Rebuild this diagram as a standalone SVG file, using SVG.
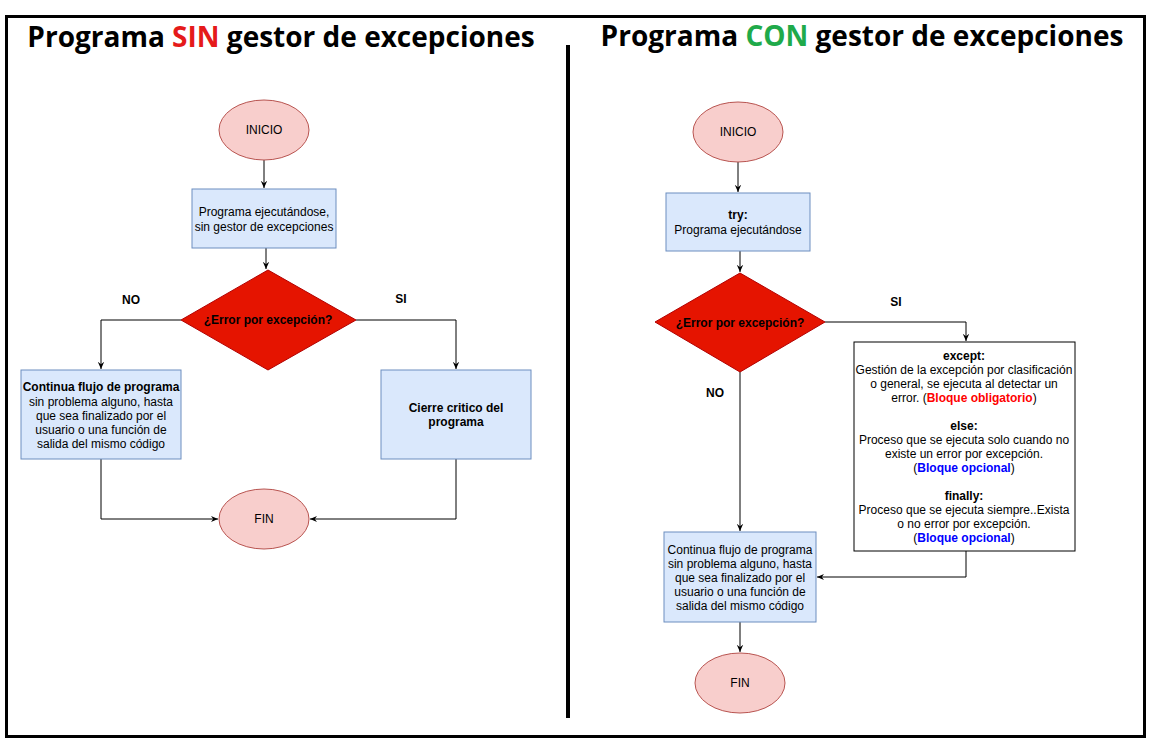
<svg xmlns="http://www.w3.org/2000/svg" width="1154" height="748" viewBox="0 0 1154 748">
<style>
.t{font-family:"Liberation Sans",Arial,sans-serif;font-size:12px;fill:#000;text-anchor:middle}
.b{font-weight:bold}
.h{font-family:"Open Sans","Noto Sans",sans-serif;font-weight:bold;font-size:28px;text-anchor:middle}
.el{fill:#f8cecc;stroke:#b85450}
.bx{fill:#dae8fc;stroke:#6c8ebf}
.dm{fill:#e51400;stroke:#b20000}
.c{fill:none;stroke:#000;stroke-width:1;marker-end:url(#a)}
</style>
<defs><marker id="a" viewBox="0 0 10 10" refX="9" refY="5" markerWidth="8" markerHeight="8" orient="auto"><path d="M0,1 L9,5 L0,9 L3,5 Z" fill="#000"/></marker></defs>
<rect x="0" y="0" width="1154" height="748" fill="#fff"/>
<rect x="6.5" y="16.5" width="1138" height="720" fill="none" stroke="#000" stroke-width="3"/>
<line x1="568" y1="45" x2="568" y2="718" stroke="#000" stroke-width="4"/>
<text class="h" x="281" y="47">Programa <tspan fill="#e51a1a">SIN</tspan> gestor de excepciones</text>
<text class="h" x="862" y="46">Programa <tspan fill="#1faa4a">CON</tspan> gestor de excepciones</text>
<g id="connectors">
<path class="c" d="M264,160 V188"/>
<path class="c" d="M266,248 V269"/>
<path class="c" d="M181,320 H101 V369"/>
<path class="c" d="M356,320 H456 V369"/>
<path class="c" d="M101,459 V519 H218"/>
<path class="c" d="M456,459 V519 H310"/>
<path class="c" d="M738,162 V192"/>
<path class="c" d="M740,251 V272"/>
<path class="c" d="M825,322 H966 V341"/>
<path class="c" d="M740,372 V531"/>
<path class="c" d="M966,551 V577 H817"/>
<path class="c" d="M740,622 V652"/>
</g>
<text class="t b" x="131" y="304">NO</text>
<text class="t b" x="401" y="303">SI</text>
<text class="t b" x="896" y="306">SI</text>
<text class="t b" x="715" y="397">NO</text>
<g id="inicio1"><ellipse class="el" cx="264" cy="130" rx="45" ry="30"/><text class="t" x="264" y="134">INICIO</text></g>
<g id="prog1"><rect class="bx" x="192" y="189" width="144" height="59"/><text class="t" x="264" y="216">Programa ejecutándose,</text><text class="t" x="264" y="231">sin gestor de excepciones</text></g>
<g id="dec1"><polygon class="dm" points="268,270 356,320 268,370 181,320"/><text class="t b" x="268" y="324" fill="#fff">¿Error por excepción?</text></g>
<g id="cont1"><rect class="bx" x="21" y="370" width="160" height="89"/>
<text class="t" x="101" y="391"><tspan class="b">Continua flujo de programa</tspan></text>
<text class="t" x="101" y="406">sin problema alguno, hasta</text>
<text class="t" x="101" y="420">que sea finalizado por el</text>
<text class="t" x="101" y="434">usuario o una función de</text>
<text class="t" x="101" y="448">salida del mismo código</text></g>
<g id="cierre1"><rect class="bx" x="381" y="370" width="150" height="89"/><text class="t b" x="456" y="412">Cierre critico del</text><text class="t b" x="456" y="426">programa</text></g>
<g id="fin1"><ellipse class="el" cx="264" cy="519" rx="45" ry="30"/><text class="t" x="264" y="523">FIN</text></g>
<g id="inicio2"><ellipse class="el" cx="738" cy="132" rx="45" ry="30"/><text class="t" x="738" y="136">INICIO</text></g>
<g id="try2"><rect class="bx" x="666" y="193" width="144" height="58"/><text class="t b" x="738" y="219">try:</text><text class="t" x="738" y="234">Programa ejecutándose</text></g>
<g id="dec2"><polygon class="dm" points="740,273 825,322 740,372 655,322"/><text class="t b" x="740" y="327" fill="#fff">¿Error por excepción?</text></g>
<g id="except2"><rect x="854" y="342" width="221" height="209" fill="#fff" stroke="#000"/>
<text class="t b" x="964" y="360">except:</text>
<text class="t" x="964" y="374">Gestión de la excepción por clasificación</text>
<text class="t" x="964" y="388">o general, se ejecuta al detectar un</text>
<text class="t" x="964" y="402">error. (<tspan fill="#ff0000" class="b">Bloque obligatorio</tspan>)</text>
<text class="t b" x="964" y="430">else:</text>
<text class="t" x="964" y="444">Proceso que se ejecuta solo cuando no</text>
<text class="t" x="964" y="458">existe un error por excepción.</text>
<text class="t" x="964" y="472">(<tspan fill="#0000ff" class="b">Bloque opcional</tspan>)</text>
<text class="t b" x="964" y="500">finally:</text>
<text class="t" x="964" y="514">Proceso que se ejecuta siempre..Exista</text>
<text class="t" x="964" y="528">o no error por excepción.</text>
<text class="t" x="964" y="542">(<tspan fill="#0000ff" class="b">Bloque opcional</tspan>)</text></g>
<g id="cont2"><rect class="bx" x="664" y="532" width="152" height="90"/>
<text class="t" x="740" y="554">Continua flujo de programa</text>
<text class="t" x="740" y="568">sin problema alguno, hasta</text>
<text class="t" x="740" y="582">que sea finalizado por el</text>
<text class="t" x="740" y="596">usuario o una función de</text>
<text class="t" x="740" y="610">salida del mismo código</text></g>
<g id="fin2"><ellipse class="el" cx="740" cy="683" rx="45" ry="30"/><text class="t" x="740" y="687">FIN</text></g>
</svg>
